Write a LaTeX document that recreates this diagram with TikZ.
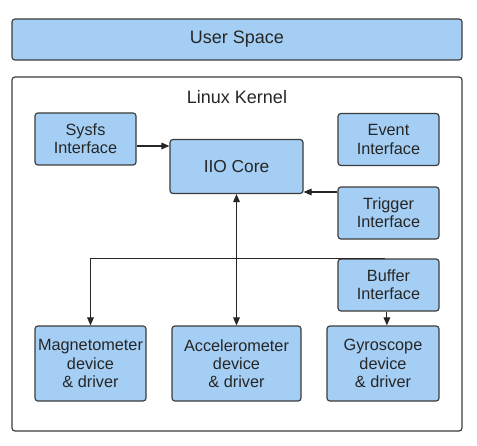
\documentclass[tikz,border=0pt]{standalone}
\usepackage{fontspec}
\setmainfont{Liberation Sans}
\usepackage{tikz}
\usetikzlibrary{arrows.meta}

\definecolor{boxblue}{RGB}{164,206,244}
\definecolor{edgegray}{RGB}{60,60,60}

\begin{document}
\begin{tikzpicture}[x=0.75pt,y=-0.75pt,
    blk/.style={draw=edgegray, fill=boxblue, line width=0.9pt, rounded corners=2.2pt,
        inner sep=0pt, align=center, text=black!85,
        font=\fontsize{12.2}{13.6}\selectfont},
    big/.style={font=\fontsize{13.5}{15}\selectfont},
    conn/.style={draw=black!85, line width=0.8pt},
    >={Triangle[length=6pt,width=5pt]}]
    \useasboundingbox (0,0) rectangle (477,445);
    \node[blk, big, minimum width=337.5pt, minimum height=30.75pt] (user) at (237,39.5) {User Space};
    \node[blk, fill=white, minimum width=337.5pt, minimum height=265.5pt] (kernel) at (237,254) {};
    \node[big, text=black!85] (title) at (237,97) {Linux Kernel};
    % interfaces and core
    \node[blk, minimum width=75.75pt, minimum height=39pt] (sysfs) at (85.5,139) {Sysfs\\Interface};
    \node[blk, font=\fontsize{13}{15}\selectfont, minimum width=99.75pt, minimum height=40.5pt] (iio) at (236.5,166.5) {IIO Core};
    \node[blk, minimum width=75.75pt, minimum height=39pt] (event) at (388.5,139.5) {Event\\Interface};
    \node[blk, minimum width=75.75pt, minimum height=39pt] (trigger) at (388.5,213) {Trigger\\Interface};
    \node[blk, minimum width=75.75pt, minimum height=39pt] (buffer) at (388.5,285) {Buffer\\Interface};
    % devices
    \node[blk, minimum width=83.25pt, minimum height=56.25pt] (mag) at (90.5,363.5) {Magnetometer\\device\\\& driver};
    \node[blk, minimum width=96.75pt, minimum height=56.25pt] (acc) at (236.5,363.5) {Accelerometer\\device\\\& driver};
    \node[blk, minimum width=84pt, minimum height=56.25pt] (gyro) at (383,363.5) {Gyroscope\\device\\\& driver};
    % connectors
    \coordinate (s) at ([yshift=-5.25pt]sysfs.east);
    \coordinate (t) at ([yshift=15.75pt]trigger.west);
    \coordinate (b) at ([xshift=-2.5pt]buffer.north);
    \coordinate (g) at ([xshift=-1.2pt]buffer.south);
    \draw[conn, ->] (s) -- (s -| iio.west);
    \draw[conn, ->] (t) -- (t -| iio.east);
    \draw[conn, <->] (iio.south) -- (acc.north);
    \draw[conn, ->] (b) -| (mag.north);
    \draw[conn, ->] (g) -- (g |- gyro.north);
\end{tikzpicture}
\end{document}
